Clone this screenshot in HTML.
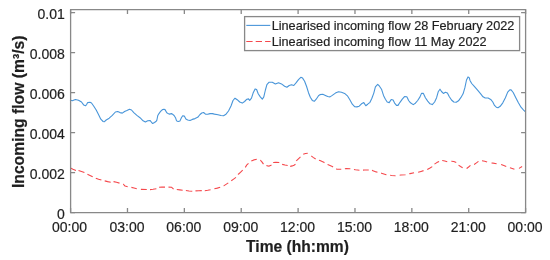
<!DOCTYPE html>
<html><head><meta charset="utf-8"><style>
html,body{margin:0;padding:0;background:#fff;}
svg{display:block;}
text{font-family:"Liberation Sans",Arial,sans-serif;fill:#1f1f1f;stroke:#1f1f1f;stroke-width:0.2px;}
</style></head><body>
<svg width="550" height="260" viewBox="0 0 550 260">
<rect width="550" height="260" fill="#fff"/>
<g>
<g fill="none" stroke-width="1" stroke-linejoin="round">
<polyline points="70.0,100.0 72.3,100.8 75.4,99.5 78.5,100.2 81.5,102.0 83.8,105.1 85.4,105.8 86.6,104.6 87.7,102.6 90.0,102.3 91.5,103.0 93.8,106.2 96.2,110.0 98.5,114.6 100.8,119.2 103.1,121.5 104.2,121.8 106.2,120.0 109.2,118.2 112.3,115.4 115.4,112.0 117.7,111.5 120.0,112.6 122.3,113.1 124.6,111.5 126.9,110.5 129.5,109.2 131.5,110.0 133.8,112.6 136.9,115.4 140.0,117.7 143.1,120.8 145.4,122.0 147.7,120.8 150.0,120.5 150.5,121.0 152.0,122.8 152.7,123.5 154.5,122.5 156.2,121.2 156.8,120.4 157.3,118.0 157.7,115.8 158.8,113.8 160.0,112.2 161.3,110.7 162.7,109.5 163.9,109.2 165.0,109.6 166.8,112.7 169.1,114.1 171.8,113.6 174.1,115.5 175.5,117.7 176.4,120.4 177.3,121.3 178.2,121.5 180.0,120.9 181.4,117.7 182.7,115.7 184.3,116.1 185.9,119.1 187.7,120.0 190.0,120.5 192.3,119.4 195.0,118.6 197.7,117.3 200.0,114.5 201.8,113.0 203.6,112.5 205.5,114.1 207.7,114.3 210.0,113.6 212.3,113.6 214.5,114.1 218.0,114.8 221.0,115.5 223.5,115.8 226.0,114.2 228.5,111.0 231.0,106.0 233.0,100.5 235.0,98.2 237.2,99.7 239.7,102.0 242.3,103.1 244.6,101.5 246.9,99.2 248.5,98.9 249.7,100.3 251.5,98.2 253.1,93.1 255.1,88.9 256.6,89.5 258.2,93.8 260.3,96.9 262.3,99.2 263.8,96.9 265.4,90.0 266.9,84.6 268.9,82.3 270.0,82.2 272.3,82.2 275.4,83.9 278.5,82.7 281.5,83.9 284.6,86.2 286.9,87.3 289.2,85.5 291.5,84.7 293.8,85.5 296.2,82.7 298.5,79.6 300.8,77.3 302.6,78.1 304.6,81.2 306.6,86.5 308.5,92.7 310.3,97.3 312.3,100.4 314.3,101.3 316.2,99.2 318.5,95.8 320.0,94.6 322.8,94.3 325.4,95.4 327.7,96.5 330.0,96.9 332.3,95.4 335.4,93.1 338.5,91.8 341.5,92.3 344.6,93.4 347.4,95.8 350.0,100.0 352.3,104.2 354.6,106.6 356.9,106.9 359.2,106.2 361.5,103.8 363.8,102.6 365.8,105.7 367.7,104.2 370.0,102.3 371.8,98.5 373.8,93.1 375.4,86.9 377.7,84.3 379.5,86.2 381.5,89.2 383.5,95.4 385.4,99.2 387.2,102.0 389.2,102.6 391.2,99.5 393.1,100.0 394.6,103.1 396.5,105.4 398.0,105.4 400.0,102.3 402.3,99.2 404.5,96.6 406.8,96.7 407.7,98.5 408.6,100.5 410.5,102.8 413.2,104.6 415.4,103.2 417.7,100.5 420.0,96.9 421.5,93.4 423.4,93.4 425.4,97.7 427.7,101.1 430.0,103.8 432.3,104.6 434.6,102.0 436.6,97.7 438.2,91.8 440.0,89.2 441.5,91.5 443.4,93.4 445.4,92.3 447.4,93.1 449.2,96.5 451.5,100.0 453.8,102.0 456.2,102.3 458.5,100.8 460.8,97.7 463.1,93.8 464.9,87.7 466.5,80.0 468.0,76.9 469.2,77.7 470.0,80.4 471.7,83.5 474.3,86.4 477.8,90.4 480.7,93.9 483.0,96.8 485.2,98.0 488.1,98.0 490.7,99.4 492.8,102.0 494.5,105.4 496.3,107.2 498.0,107.7 500.2,106.3 502.8,102.8 505.4,97.7 507.7,92.1 509.8,89.9 511.1,89.9 513.2,92.5 515.8,97.7 518.4,102.8 521.0,107.2 523.6,110.1 525.5,111.8" stroke="#4895d9" stroke-width="1.1"/>
<polyline points="70.5,168.1 73.0,169.2 75.9,170.4 78.5,170.6 81.5,171.6 84.4,172.6 87.4,174.2 90.0,175.4 92.7,176.7 95.8,178.2 98.6,179.2 101.4,180.1 104.7,180.9 107.7,181.6 110.7,182.2 113.6,181.6 116.5,182.3 119.5,183.1 122.0,183.6 123.2,184.0 124.2,185.2 125.0,186.0 127.7,186.7 131.4,187.4 134.0,188.0 136.8,188.7 140.9,189.4 146.8,189.5 150.0,189.6 153.0,189.3 156.4,188.7 159.1,187.3 162.0,187.1 165.0,187.1 168.0,187.1 171.4,187.2 172.5,188.2 173.6,189.2 176.8,189.5 179.8,189.9 182.7,190.3 185.9,190.5 189.0,191.0 192.3,191.3 195.5,190.9 198.6,190.7 201.8,190.6 204.8,190.7 207.7,190.3 210.6,189.7 214.4,188.8 217.3,188.1 220.2,187.3 223.7,185.9 226.0,184.4 228.3,182.9 231.3,180.8 233.6,179.1 236.0,177.4 238.1,174.5 240.4,172.3 242.7,170.1 245.3,167.4 246.6,165.2 248.5,163.4 251.4,161.1 253.8,159.9 256.8,159.3 258.5,159.6 260.3,160.2 261.9,161.9 263.5,164.2 265.0,165.1 266.3,165.5 267.8,165.9 269.2,166.1 270.4,165.6 271.5,164.9 273.2,162.5 276.0,162.4 279.3,162.5 282.2,164.4 285.0,165.0 287.7,165.5 290.3,166.4 292.2,165.9 294.0,165.2 295.5,164.2 296.3,160.8 298.4,158.8 300.5,156.9 303.2,154.2 305.5,153.5 307.8,153.3 309.5,154.5 311.2,155.9 313.5,157.6 315.7,159.1 316.2,159.2 320.0,160.5 323.8,162.3 327.7,164.6 332.3,166.6 336.9,169.2 341.5,169.2 346.2,168.5 350.8,168.8 355.4,169.7 360.0,170.3 364.6,170.0 369.2,170.0 372.3,170.4 376.2,171.9 381.5,173.2 386.2,174.7 391.5,175.5 395.4,175.8 400.8,175.0 405.4,174.7 410.0,173.6 414.1,172.7 418.2,172.3 421.0,171.4 423.6,170.6 427.3,169.5 430.0,168.0 432.3,166.6 434.5,164.1 436.8,162.6 439.1,161.4 442.3,160.5 444.8,161.0 447.3,161.8 449.5,161.5 451.4,161.2 453.8,161.5 456.3,162.5 457.5,163.8 458.6,165.1 460.5,166.5 462.7,167.7 464.7,168.4 466.7,168.5 468.6,167.0 470.5,165.4 472.3,164.9 474.2,164.5 476.4,162.9 478.5,161.3 482.1,160.7 484.7,161.3 487.2,162.0 491.6,162.9 496.7,163.7 501.2,164.5 503.8,165.5 506.3,166.5 510.0,167.7 514.5,169.2 516.8,169.2 519.0,168.4 522.2,166.5 525.5,166.2" stroke="#f5484c" stroke-width="1.1" stroke-dasharray="5.87,2.61,6.23,3.4,5.86,3.44,5.91,3.4,6.14,2.96,6.09,3.81,5.48,3.77,5.55,4.16,5.9,3.2,6.47,3.04,5.91,3.5,5.87,3.21,5.95,3.21,6.45,3.22,6.31,3.0,5.89,3.91,5.99,3.77,5.49,3.66,5.8,3.58,6.37,3.75,5.17,3.7,5.74,3.62,5.14,3.11,5.57,2.94,6.1,3.47,5.61,2.75,5.7,3.49,5.73,3.82,4.71,4.28,5.52,3.47,6.07,3.6,6.05,3.68,5.09,3.64,5.52,3.66,5.56,3.51,5.8,3.22,5.82,3.71,5.65,3.74,5.43,4.14,5.93,3.8,4.92,4.12,5.66,3.86,5.78,3.33,5.34,3.32,5.17,4.14,5.11,3.47,4.87,4.12,4.9,3.81,5.36,3.65,5.26,4.49,5.16,4.57,5.48,3.89,4.74,4.64,3.72,8.31"/>
</g>
<g transform="translate(0.1,0.1)"><path d="M70.5,9.5H525.5V212.5H70.5Z" fill="none" stroke="#888888" stroke-width="1.3"/>
<path d="M70.5,212.5h4.5M525.5,212.5h-4.5M70.5,172.5h4.5M525.5,172.5h-4.5M70.5,132.5h4.5M525.5,132.5h-4.5M70.5,92.5h4.5M525.5,92.5h-4.5M70.5,52.5h4.5M525.5,52.5h-4.5M70.5,12.5h4.5M525.5,12.5h-4.5M70.50,212.5v-4.5M70.50,9.5v4.5M127.38,212.5v-4.5M127.38,9.5v4.5M184.25,212.5v-4.5M184.25,9.5v4.5M241.12,212.5v-4.5M241.12,9.5v4.5M298.00,212.5v-4.5M298.00,9.5v4.5M354.88,212.5v-4.5M354.88,9.5v4.5M411.75,212.5v-4.5M411.75,9.5v4.5M468.62,212.5v-4.5M468.62,9.5v4.5M525.50,212.5v-4.5M525.50,9.5v4.5" fill="none" stroke="#888888" stroke-width="1.3"/></g>
<g font-size="14">
<text x="64.8" y="218.8" text-anchor="end">0</text><text x="64.8" y="178.8" text-anchor="end">0.002</text><text x="64.8" y="138.8" text-anchor="end">0.004</text><text x="64.8" y="98.8" text-anchor="end">0.006</text><text x="64.8" y="58.8" text-anchor="end">0.008</text><text x="64.8" y="18.8" text-anchor="end">0.01</text>
<text x="69.50" y="231.5" text-anchor="middle">00:00</text><text x="126.97" y="231.5" text-anchor="middle">03:00</text><text x="183.85" y="231.5" text-anchor="middle">06:00</text><text x="240.72" y="231.5" text-anchor="middle">09:00</text><text x="297.60" y="231.5" text-anchor="middle">12:00</text><text x="354.48" y="231.5" text-anchor="middle">15:00</text><text x="411.35" y="231.5" text-anchor="middle">18:00</text><text x="468.23" y="231.5" text-anchor="middle">21:00</text><text x="525.10" y="231.5" text-anchor="middle">00:00</text>
</g>
<text x="297.5" y="252.4" font-size="15.6" font-weight="bold" text-anchor="middle">Time (hh:mm)</text>
<text transform="translate(24,111.8) rotate(-90)" font-size="15.7" font-weight="bold" text-anchor="middle">Incoming flow (m³/s)</text>
<rect x="244.6" y="16.6" width="275" height="34" fill="#fff" stroke="#888888" stroke-width="1.3"/>
<path d="M246.3,25.4h24" stroke="#4a96da" stroke-width="1.1"/>
<path d="M246.3,41.5h24.3" stroke="#f5484c" stroke-width="1.1" stroke-dasharray="6.3,3.1"/>
<g font-size="12.7">
<text x="271.7" y="29.5">Linearised incoming flow 28 February 2022</text>
<text x="271.7" y="45.8">Linearised incoming flow 11 May 2022</text>
</g>
</g>
</svg>
</body></html>
